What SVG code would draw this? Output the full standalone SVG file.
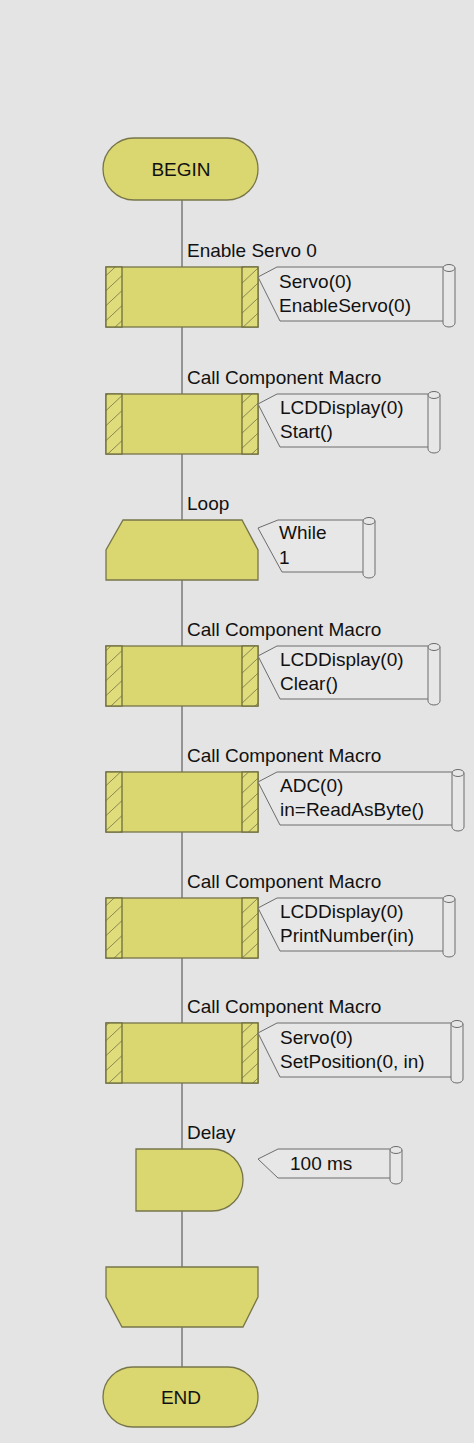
<svg xmlns="http://www.w3.org/2000/svg" width="474" height="1443" viewBox="0 0 474 1443">
<defs>
<pattern id="hatch" patternUnits="userSpaceOnUse" x="0" y="0" width="16" height="15">
<rect x="0" y="0" width="16" height="15" fill="#dfdc7c"/>
<line x1="-1" y1="16" x2="17" y2="-1" stroke="#7d7c4a" stroke-width="0.9"/>
</pattern>
<style>
.bg{fill:#e4e4e4}
.node{fill:#dad670;stroke:#77764a;stroke-width:1.3}
.strip{fill:url(#hatch);stroke:#6e6d3c;stroke-width:1.3}
.cmt{fill:#e7e7e7;stroke:#6c6c6c;stroke-width:1}
.t{font-family:"Liberation Sans",Arial,sans-serif;font-size:19px;fill:#111111}
.c{text-anchor:middle}
.wire{stroke:#7a7a7a;stroke-width:1.5;fill:none}
</style>
</defs>
<rect class="bg" x="0" y="0" width="474" height="1443"/>
<g id="connectors">
<line class="wire" x1="182" y1="200" x2="182" y2="1367"/>
</g>
<g id="begin">
<rect class="node" x="103" y="138" width="155" height="62" rx="31"/>
<text class="t c" x="181" y="176">BEGIN</text>
</g>
<g id="enable-servo">
<text class="t" x="187" y="257">Enable Servo 0</text>
<rect class="node" x="106" y="267" width="152" height="60"/>
<rect class="strip" x="106" y="267" width="16" height="60"/>
<rect class="strip" x="242" y="267" width="16" height="60"/>
<path class="cmt" d="M277,267 H449 V321 H280 L258,277 Z"/>
<rect class="cmt" x="443" y="265" width="12" height="62" rx="6" ry="4"/>
<ellipse class="cmt" cx="449" cy="268" rx="6" ry="3.5"/>
<text class="t" x="279" y="288">Servo(0)</text>
<text class="t" x="279" y="312">EnableServo(0)</text>
</g>
<g id="lcd-start">
<text class="t" x="187" y="384">Call Component Macro</text>
<rect class="node" x="106" y="394" width="152" height="60"/>
<rect class="strip" x="106" y="394" width="16" height="60"/>
<rect class="strip" x="242" y="394" width="16" height="60"/>
<path class="cmt" d="M277,394 H434 V447 H280 L258,404 Z"/>
<rect class="cmt" x="428" y="392" width="12" height="61" rx="6" ry="4"/>
<ellipse class="cmt" cx="434" cy="395" rx="6" ry="3.5"/>
<text class="t" x="280" y="414">LCDDisplay(0)</text>
<text class="t" x="280" y="438">Start()</text>
</g>
<g id="loop">
<text class="t" x="187" y="510">Loop</text>
<polygon class="node" points="123,520 242,520 258,550 258,580 106,580 106,550"/>
<path class="cmt" d="M278,520 H369 V572 H282 L258,528 Z"/>
<rect class="cmt" x="363" y="518" width="12" height="60" rx="6" ry="4"/>
<ellipse class="cmt" cx="369" cy="521" rx="6" ry="3.5"/>
<text class="t" x="279" y="539">While</text>
<text class="t" x="279" y="564">1</text>
</g>
<g id="lcd-clear">
<text class="t" x="187" y="636">Call Component Macro</text>
<rect class="node" x="106" y="646" width="152" height="60"/>
<rect class="strip" x="106" y="646" width="16" height="60"/>
<rect class="strip" x="242" y="646" width="16" height="60"/>
<path class="cmt" d="M277,646 H434 V699 H280 L258,656 Z"/>
<rect class="cmt" x="428" y="644" width="12" height="61" rx="6" ry="4"/>
<ellipse class="cmt" cx="434" cy="647" rx="6" ry="3.5"/>
<text class="t" x="280" y="666">LCDDisplay(0)</text>
<text class="t" x="280" y="690">Clear()</text>
</g>
<g id="adc-read">
<text class="t" x="187" y="762">Call Component Macro</text>
<rect class="node" x="106" y="772" width="152" height="60"/>
<rect class="strip" x="106" y="772" width="16" height="60"/>
<rect class="strip" x="242" y="772" width="16" height="60"/>
<path class="cmt" d="M277,772 H458 V825 H280 L258,782 Z"/>
<rect class="cmt" x="452" y="770" width="12" height="61" rx="6" ry="4"/>
<ellipse class="cmt" cx="458" cy="773" rx="6" ry="3.5"/>
<text class="t" x="280" y="792">ADC(0)</text>
<text class="t" x="280" y="816">in=ReadAsByte()</text>
</g>
<g id="lcd-print">
<text class="t" x="187" y="888">Call Component Macro</text>
<rect class="node" x="106" y="898" width="152" height="60"/>
<rect class="strip" x="106" y="898" width="16" height="60"/>
<rect class="strip" x="242" y="898" width="16" height="60"/>
<path class="cmt" d="M277,898 H449 V951 H280 L258,908 Z"/>
<rect class="cmt" x="443" y="896" width="12" height="61" rx="6" ry="4"/>
<ellipse class="cmt" cx="449" cy="899" rx="6" ry="3.5"/>
<text class="t" x="280" y="918">LCDDisplay(0)</text>
<text class="t" x="280" y="942">PrintNumber(in)</text>
</g>
<g id="servo-set">
<text class="t" x="187" y="1013">Call Component Macro</text>
<rect class="node" x="106" y="1023" width="152" height="60"/>
<rect class="strip" x="106" y="1023" width="16" height="60"/>
<rect class="strip" x="242" y="1023" width="16" height="60"/>
<path class="cmt" d="M277,1023 H457 V1077 H280 L258,1033 Z"/>
<rect class="cmt" x="451" y="1021" width="12" height="62" rx="6" ry="4"/>
<ellipse class="cmt" cx="457" cy="1024" rx="6" ry="3.5"/>
<text class="t" x="280" y="1044">Servo(0)</text>
<text class="t" x="280" y="1068">SetPosition(0, in)</text>
</g>
<g id="delay">
<text class="t" x="187" y="1139">Delay</text>
<path class="node" d="M136,1149 H212 A31,31 0 0 1 212,1211 H136 Z"/>
<path class="cmt" d="M278,1149 H396 V1178 H278 L258,1159 Z"/>
<rect class="cmt" x="390" y="1147" width="12" height="37" rx="6" ry="4"/>
<ellipse class="cmt" cx="396" cy="1150" rx="6" ry="3.5"/>
<text class="t" x="290" y="1170">100 ms</text>
</g>
<g id="loop-end">
<polygon class="node" points="106,1267 258,1267 258,1297 243,1327 122,1327 106,1297"/>
</g>
<g id="end">
<rect class="node" x="103" y="1367" width="155" height="60" rx="30"/>
<text class="t c" x="181" y="1404">END</text>
</g>
</svg>
